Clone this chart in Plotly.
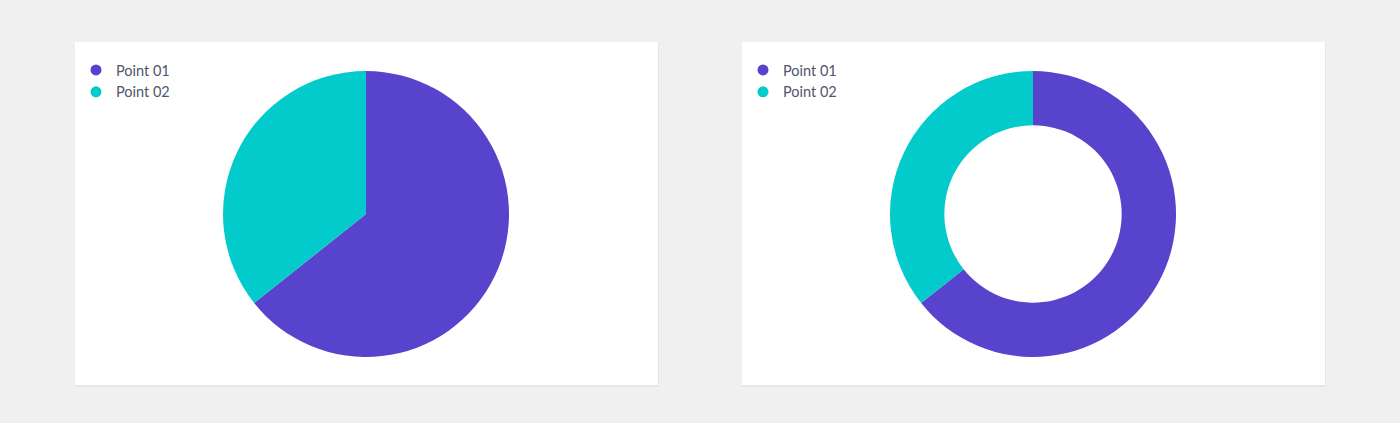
import plotly.graph_objects as go

labels = ["Point 01", "Point 02"]
values = [64.3, 35.7]
colors = ["#5843cd", "#03cbcb"]

W, H = 1400, 423
def px(x): return x / W
def py(y): return 1 - y / H

fig = go.Figure()

# pies
fig.add_trace(go.Pie(labels=labels, values=values, sort=False, direction="clockwise",
                     marker=dict(colors=colors, line=dict(width=0)), textinfo="none",
                     hoverinfo="label+percent", showlegend=False,
                     domain=dict(x=[px(223), px(509)], y=[py(357), py(71)])))
fig.add_trace(go.Pie(labels=labels, values=values, sort=False, direction="clockwise", hole=0.62,
                     marker=dict(colors=colors, line=dict(width=0)), textinfo="none",
                     hoverinfo="label+percent", showlegend=False,
                     domain=dict(x=[px(890), px(1176)], y=[py(357), py(71)])))

# legend entries
for lg in ["legend", "legend2"]:
    for lab, col in zip(labels, colors):
        fig.add_trace(go.Scatter(x=[None], y=[None], mode="markers", name=lab,
                                 marker=dict(color=col, size=11, symbol="circle"),
                                 legend=lg, showlegend=True))

cards = [(75, 42, 658, 385), (742, 42, 1325, 385)]
shapes = []
for (x0, y0, x1, y1) in cards:
    shapes.append(dict(type="rect", xref="paper", yref="paper", x0=px(x0), x1=px(x1 + 1),
                       y0=py(y1 + 2), y1=py(y0), fillcolor="#e6e6e6", line=dict(width=0), layer="below"))
    shapes.append(dict(type="rect", xref="paper", yref="paper", x0=px(x0), x1=px(x1),
                       y0=py(y1), y1=py(y0), fillcolor="#ffffff", line=dict(width=0), layer="below"))

legend_style = dict(font=dict(family="Lato", size=14.5, color="#51556c"),
                    bgcolor="rgba(0,0,0,0)",
                    xanchor="left", yanchor="top", orientation="v", itemclick=False)

fig.update_layout(
    width=W, height=H, margin=dict(l=0, r=0, t=0, b=0),
    paper_bgcolor="#f0f0f0", plot_bgcolor="rgba(0,0,0,0)",
    xaxis=dict(visible=False, range=[0, 1]), yaxis=dict(visible=False, range=[0, 1]),
    shapes=shapes,
    legend=dict(x=px(76), y=py(54), **legend_style),
    legend2=dict(x=px(743), y=py(54), **legend_style),
)

fig.write_html("out.html", config={"displayModeBar": False},
               post_script="document.body.style.margin='0';document.body.style.background='#f0f0f0';")
